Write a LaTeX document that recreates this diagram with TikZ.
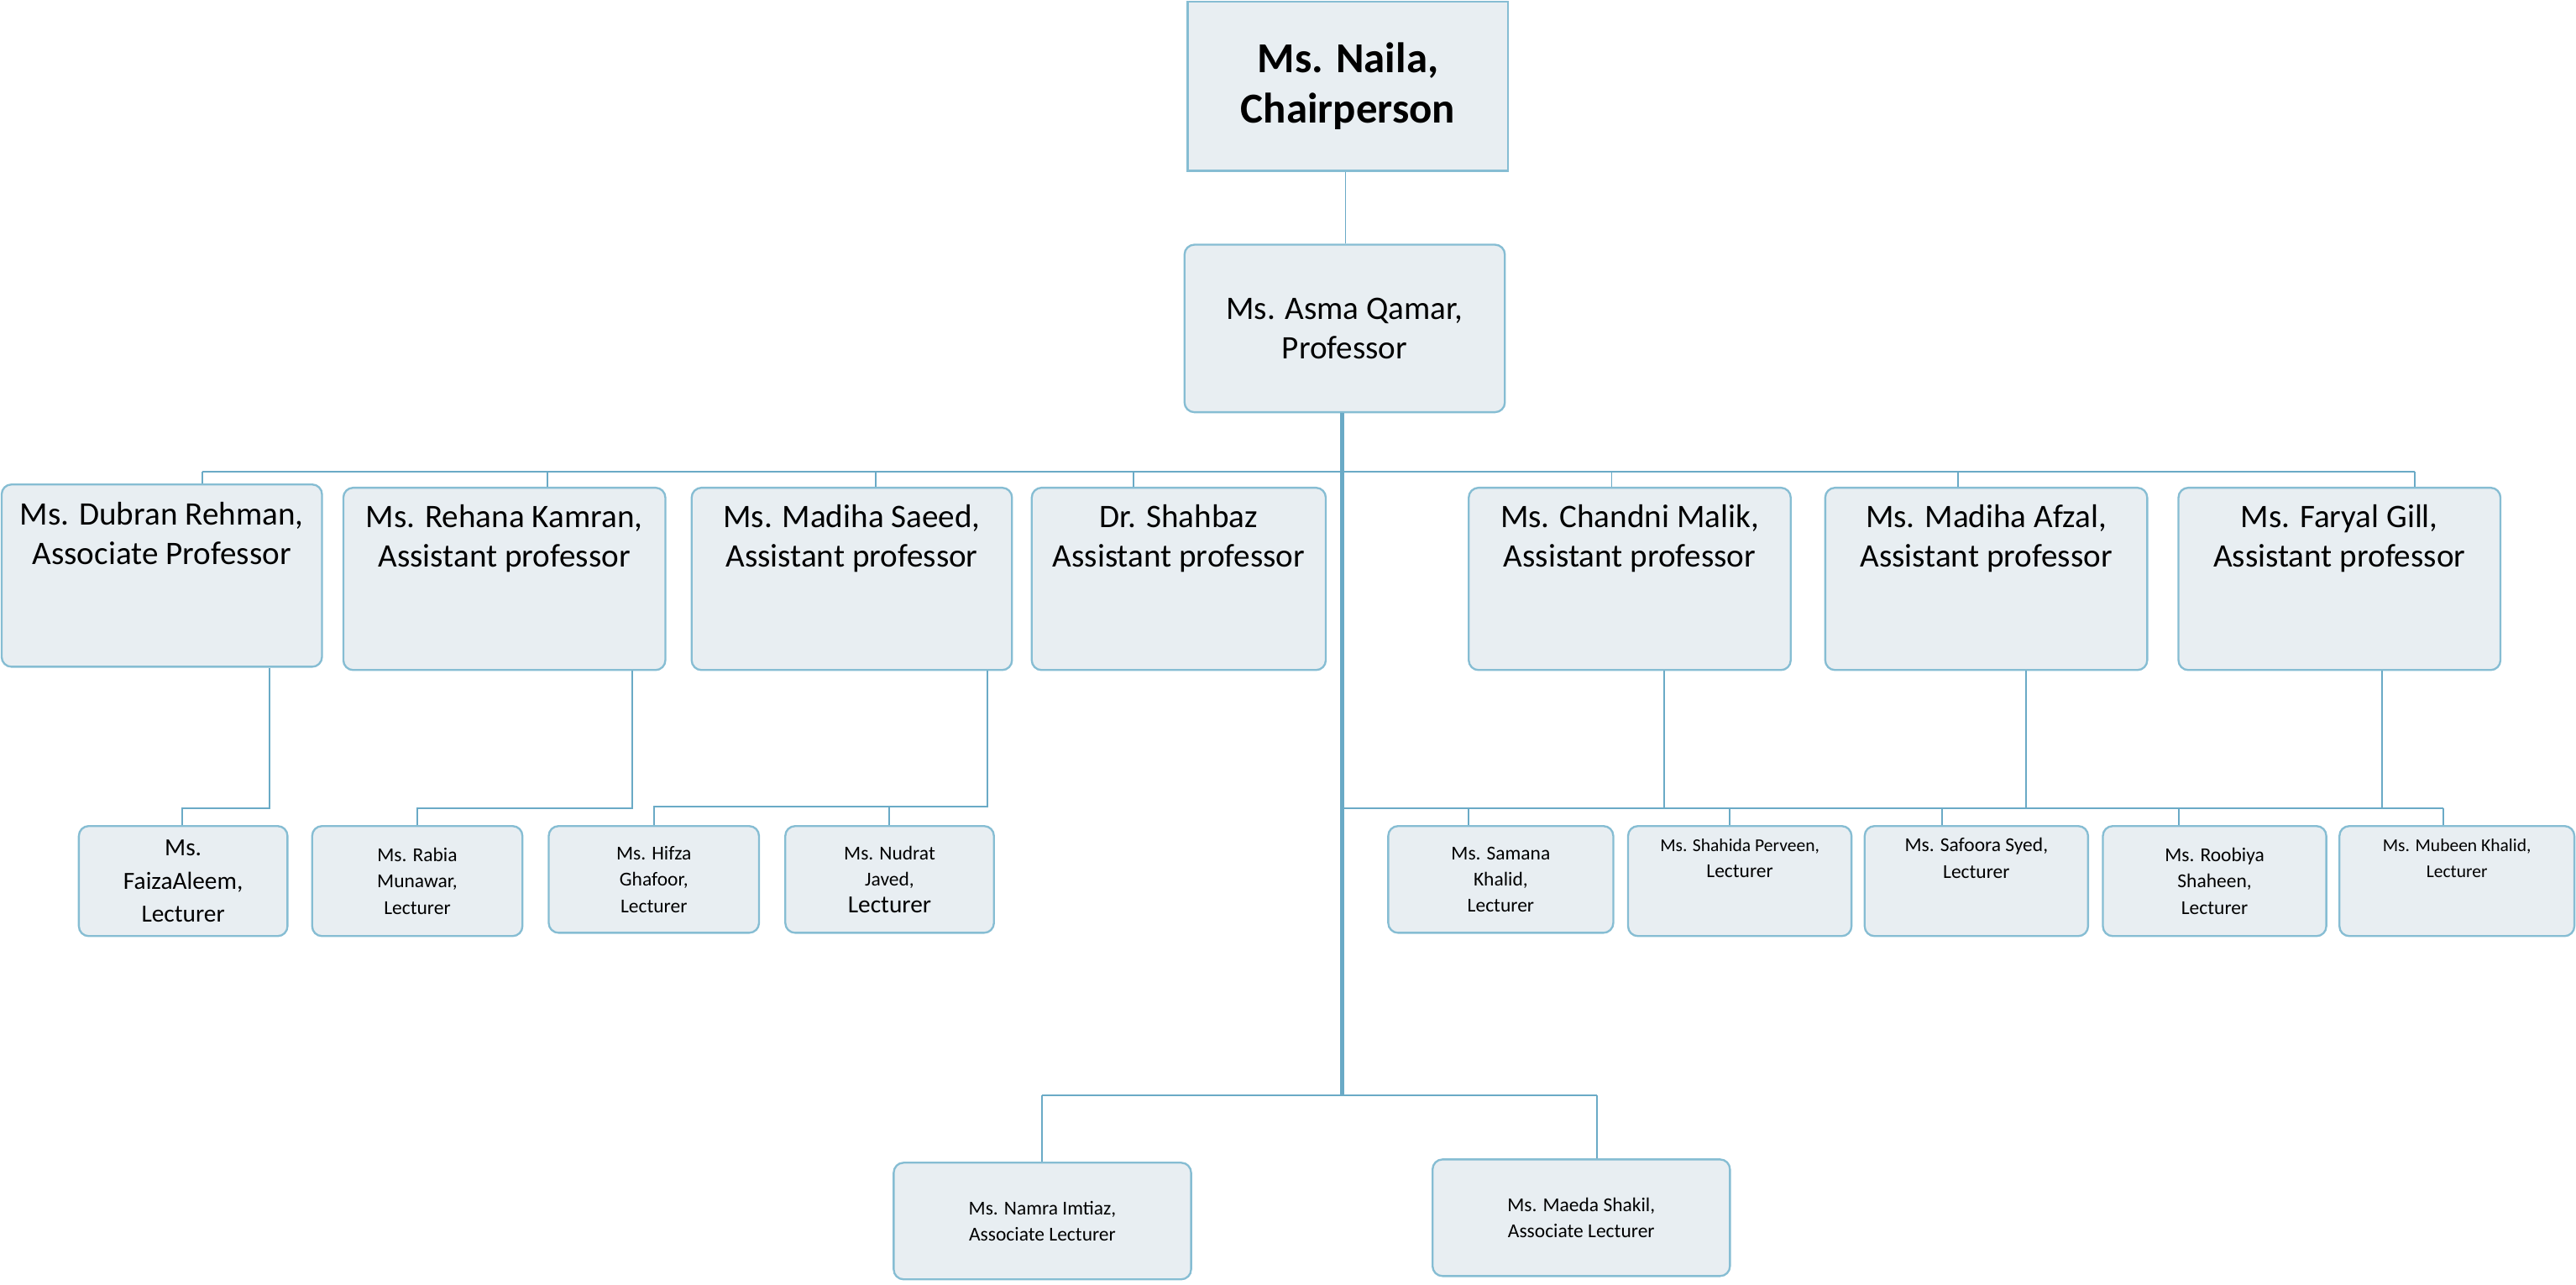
\documentclass[tikz,border=0pt]{standalone}
\usepackage{fontspec}
\setmainfont{Carlito}
\definecolor{bfill}{HTML}{E8EEF2}
\definecolor{bdraw}{HTML}{86BDD3}
\definecolor{lcol}{HTML}{6AAAC6}
\begin{document}
\begin{tikzpicture}[x=0.5pt,y=-0.5pt,
 bx/.style={draw=bdraw,fill=bfill,line width=0.6pt,rounded corners=3pt,align=center,inner sep=1pt},
 big/.style={font=\fontsize{10}{12}\selectfont},
 sm/.style={font=\fontsize{7.5}{10}\selectfont},
 xs/.style={font=\fontsize{6}{8}\selectfont},
 ln/.style={draw=lcol,line width=0.5pt}]
\useasboundingbox (0,0) rectangle (1568,782);
\newcommand\bx[7]{\node[bx,#7,minimum width={(#4-#2)*0.5pt},minimum height={(#5-#3)*0.5pt}] (#1) at ({(#2+#4)/2},{(#3+#5)/2}) {#6};}
\bx{top}{723}{1}{918}{104}{\textbf{Ms. Naila,}\\\textbf{Chairperson}}{font=\fontsize{13}{15.5}\selectfont,rounded corners=0pt}
\bx{asma}{721}{149}{916}{251}{Ms. Asma Qamar,\\Professor}{big}
\bx{dub}{1}{295}{196}{406}{Ms. Dubran Rehman,\\Associate Professor\\[14pt]}{big}
\bx{reh}{209}{297}{405}{408}{Ms. Rehana Kamran,\\Assistant professor\\[14pt]}{big}
\bx{mad}{421}{297}{616}{408}{Ms. Madiha Saeed,\\Assistant professor\\[14pt]}{big}
\bx{sha}{628}{297}{807}{408}{Dr. Shahbaz\\Assistant professor\\[14pt]}{big}
\bx{cha}{894}{297}{1090}{408}{Ms. Chandni Malik,\\Assistant professor\\[14pt]}{big}
\bx{mda}{1111}{297}{1307}{408}{Ms. Madiha Afzal,\\Assistant professor\\[14pt]}{big}
\bx{far}{1326}{297}{1522}{408}{Ms. Faryal Gill,\\Assistant professor\\[14pt]}{big}
\bx{fai}{48}{503}{175}{570}{Ms.\\FaizaAleem,\\Lecturer}{sm}
\bx{rab}{190}{503}{318}{570}{Ms. Rabia\\Munawar,\\Lecturer}{xs}
\bx{hif}{334}{503}{462}{568}{Ms. Hifza\\Ghafoor,\\Lecturer}{xs}
\bx{nud}{478}{503}{605}{568}{Ms. Nudrat\\Javed,\\{\fontsize{7.5}{9}\selectfont Lecturer}}{xs}
\bx{sam}{845}{503}{982}{568}{Ms. Samana\\Khalid,\\Lecturer}{xs}
\bx{shp}{991}{503}{1127}{570}{{\fontsize{5.5}{7}\selectfont Ms. Shahida Perveen,}\\Lecturer\\[6pt]}{xs}
\bx{saf}{1135}{503}{1271}{570}{Ms. Safoora Syed,\\Lecturer\\[6pt]}{xs}
\bx{roo}{1280}{503}{1416}{570}{Ms. Roobiya\\Shaheen,\\Lecturer}{xs}
\bx{mub}{1424}{503}{1567}{570}{{\fontsize{5.5}{7}\selectfont Ms. Mubeen Khalid,}\\{\fontsize{5.5}{7}\selectfont Lecturer}\\[6pt]}{xs}
\bx{nam}{544}{708}{725}{779}{Ms. Namra Imtiaz,\\Associate Lecturer}{xs}
\bx{mae}{872}{706}{1053}{777}{Ms. Maeda Shakil,\\Associate Lecturer}{xs}
% coordinates
\coordinate (tr) at (817,667);
\coordinate (bL) at (123,287); \coordinate (bR) at (1470,287);
\foreach \n/\x in {dub/123,reh/333,mad/533,sha/690,cha/981,mda/1192,far/1470}{\coordinate (d\n) at (\x,287);}
\draw[ln] (top.south -| 819,0) -- (asma.north -| 819,0);
\draw[ln,line width=1.2pt] (asma.south -| tr) -- (tr);
\draw[ln] (bL) -- (bR);
\foreach \n in {dub,reh,mad,sha,cha,mda,far}{\draw[ln] (d\n) -- (d\n |- \n.north);}
% left row3
\coordinate (l1) at (164,492); \coordinate (l2) at (385,492); \coordinate (l3) at (601,491);
\draw[ln] (dub.south -| l1) -- (l1) -- (111,492) -- (fai.north -| 111,0);
\draw[ln] (reh.south -| l2) -- (l2) -- (254,492) -- (rab.north -| 254,0);
\draw[ln] (mad.south -| l3) -- (l3) -- (398,491) -- (hif.north -| 398,0);
\draw[ln] (541,491) -- (nud.north -| 541,0);
% right row3
\coordinate (rb) at (817,492); \coordinate (re) at (1487,492);
\draw[ln] (rb) -- (re);
\foreach \n/\x in {sam/894,shp/1053,saf/1182,roo/1326,mub/1487}{\draw[ln] (\x,492) -- (\n.north -| \x,0);}
\foreach \n/\x in {cha/1013,mda/1233,far/1450}{\draw[ln] (\n.south -| \x,0) -- (\x,492);}
% bottom
\draw[ln] (634,667) -- (972,667);
\draw[ln] (634,667) -- (nam.north -| 634,0);
\draw[ln] (972,667) -- (mae.north -| 972,0);
\end{tikzpicture}
\end{document}
